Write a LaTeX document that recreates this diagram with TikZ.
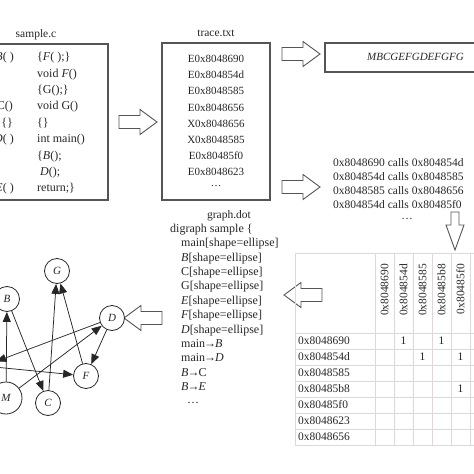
\documentclass[tikz,border=0pt]{standalone}
\usepackage{fontspec}
\setmainfont{Liberation Serif}
\usetikzlibrary{arrows.meta}
\definecolor{ink}{HTML}{262626}
\definecolor{frame}{HTML}{555555}
\definecolor{gridc}{HTML}{E0D8D8}
\begin{document}
\begin{tikzpicture}[x=1pt,y=-1pt,
  txt/.style={inner sep=0pt, text height=7.5pt, text depth=0pt, text=ink},
  dotstxt/.style={inner sep=0pt, text height=1.5pt, text depth=0pt, text=ink},
  f11/.style={font=\fontsize{11}{13}\selectfont},
  f115/.style={font=\fontsize{11.5}{13}\selectfont},
  f12/.style={font=\fontsize{12}{14}\selectfont},
  filebox/.style={draw=frame, line width=1.1pt},
  gnode/.style={circle, draw=ink, line width=0.8pt, inner sep=0pt, minimum size=25pt, fill=white, font=\fontsize{11}{13}\selectfont\itshape, text=ink},
  edge/.style={-{Triangle[length=10pt,width=8pt]}, line width=0.75pt, draw=ink},
  gridl/.style={draw=gridc, line width=0.7pt},
  barrow/.pic={\draw[frame, line width=0.9pt, line join=miter, fill=white] (0,-6.5) -- (21,-6.5) -- (21,-12.5) -- (38,0) -- (21,12.5) -- (21,6.5) -- (0,6.5) -- cycle;},
  barrowthin/.pic={\draw[frame, line width=0.9pt, line join=miter, fill=white] (0,-4) -- (13,-4) -- (13,-9) -- (38,0) -- (13,9) -- (13,4) -- (0,4) -- cycle;}
]
\useasboundingbox (0,0) rectangle (474,474);
\clip (0,0) rectangle (474,474);

% ---------- sample.c ----------
\node[txt,f115] (sctitle) at (36,34) {sample.c};
\draw[filebox] (-40,44) rectangle (108,200);
\node[txt,f12,anchor=west] (s1) at (37,57) {\{\textit{F}( );\}};
\node[txt,f12,anchor=west] (s2) at (37,73.4) {void \textit{F}()};
\node[txt,f12,anchor=west] (s3) at (37,89.8) {\{G();\}};
\node[txt,f12,anchor=west] (s4) at (37,106.2) {void G()};
\node[txt,f12,anchor=west] (s5) at (37,122.6) {\{\}};
\node[txt,f12,anchor=west] (s6) at (37,139) {int main()};
\node[txt,f12,anchor=west] (s7) at (37,155.4) {\{\textit{B}();};
\node[txt,f12,anchor=west] (s8) at (40,171.8) {\textit{D}();};
\node[txt,f12,anchor=west] (s9) at (37,188.2) {return;\}};
\node[txt,f12,anchor=east] (l1) at (14,57) {void \textit{B}( )};
\node[txt,f12,anchor=east] (l2) at (13,106.2) {void C()};
\node[txt,f12,anchor=east] (l3) at (13,122.6) {\{\}};
\node[txt,f12,anchor=east] (l4) at (14,139) {void \textit{D}( )};
\node[txt,f12,anchor=east] (l5) at (14,188.2) {void \textit{E}( )};

% ---------- trace.txt ----------
\node[txt,f115] (trtitle) at (216,33) {trace.txt};
\draw[filebox] (162,43) rectangle (270,200);
\foreach \t [count=\i from 0] in {E0x8048690,E0x804854d,E0x8048585,E0x8048656,X0x8048656,X0x8048585,E0x80485f0,E0x8048623}
  \node[txt,f11] (tr\i) at (216,{59+16.1*\i}) {\t};
\node[dotstxt,f11] (trdots) at (216,186) {\dots};

% ---------- sequence box ----------
\draw[draw=frame, line width=1.6pt] (325,43) rectangle (490,72);
\node[txt,f11,anchor=west] (seq) at (367,57) {\textit{MBCGEFGDEFGFG}};

% ---------- calls ----------
\node[txt,f115,anchor=west] (c1) at (333,163) {0x8048690 calls 0x804854d};
\node[txt,f115,anchor=west] (c2) at (333,177) {0x804854d calls 0x8048585};
\node[txt,f115,anchor=west] (c3) at (333,191) {0x8048585 calls 0x8048656};
\node[txt,f115,anchor=west] (c4) at (333,205) {0x804854d calls 0x80485f0};
\node[dotstxt,f115] (cdots) at (407,219) {\dots};

% ---------- block arrows ----------
\pic at (119,122) {barrow};
\pic at (282,54) {barrow};
\pic at (282,187) {barrow};
\pic[rotate=-90] at (455,212) {barrowthin};
\pic[rotate=180] at (322,295) {barrow};
\pic[rotate=180] at (162,318) {barrow};

% ---------- table ----------
\draw[gridl] (295,253) -- (480,253);
\foreach \y in {333,349,...,445} \draw[gridl] (295,\y) -- (480,\y);
\draw[gridl] (295,253) -- (295,445);
\foreach \x in {375,394,...,489} \draw[gridl] (\x,253) -- (\x,445);
\foreach \t [count=\i from 0] in {0x8048690,0x804854d,0x8048585,0x80485b8,0x80485f0,0x8048623}
  \node[txt,f115,rotate=90,anchor=east] (h\i) at ({384.5+19*\i},264) {\t};
\foreach \t [count=\i from 0] in {0x8048690,0x804854d,0x8048585,0x80485b8,0x80485f0,0x8048623,0x8048656}
  \node[txt,f115,anchor=west] (r\i) at (298,{341+16*\i}) {\t};
\node[txt,f115] (e1) at (403.5,341) {1};
\node[txt,f115] (e2) at (441.5,341) {1};
\node[txt,f115] (e3) at (422.5,357) {1};
\node[txt,f115] (e4) at (460.5,357) {1};
\node[txt,f115] (e5) at (460.5,389) {1};

% ---------- graph.dot ----------
\node[txt,f115] (gdtitle) at (229,215) {graph.dot};
\node[txt,f12,anchor=west] (g0) at (170,229) {digraph sample \{};
\node[txt,f12,anchor=west] (g1) at (181,243) {main[shape=ellipse]};
\node[txt,f12,anchor=west] (g2) at (181,257.4) {\textit{B}[shape=ellipse]};
\node[txt,f12,anchor=west] (g3) at (181,271.8) {C[shape=ellipse]};
\node[txt,f12,anchor=west] (g4) at (181,286.2) {G[shape=ellipse]};
\node[txt,f12,anchor=west] (g5) at (181,300.6) {\textit{E}[shape=ellipse]};
\node[txt,f12,anchor=west] (g6) at (181,315) {\textit{F}[shape=ellipse]};
\node[txt,f12,anchor=west] (g7) at (181,329.4) {\textit{D}[shape=ellipse]};
\node[txt,f12,anchor=west] (g8) at (181,343.8) {main\kern-1pt→\kern-1pt\textit{B}};
\node[txt,f12,anchor=west] (g9) at (181,358.2) {main\kern-1pt→\kern-1pt\textit{D}};
\node[txt,f12,anchor=west] (g10) at (181,372.6) {\textit{B}\kern-1pt→\kern-1pt C};
\node[txt,f12,anchor=west] (g11) at (181,387) {\textit{B}\kern-1pt→\kern-1pt\textit{E}};
\node[dotstxt,f12] (gdots) at (193,403) {\dots};

% ---------- graph ----------
\node[gnode] (G) at (57,271) {G};
\node[gnode] (B) at (7,299) {B};
\node[gnode] (D) at (112,318) {D};
\node[gnode] (F) at (86,376) {F};
\node[gnode] (C) at (48,403) {C};
\node[gnode, minimum size=32pt] (M) at (6,398) {M};
\node[gnode] (E) at (-16,366) {E};
\draw[edge] (M) -- (B);
\draw[edge] (B) -- (C);
\draw[edge] (C) -- (G);
\draw[edge] (F) -- (G);
\draw[edge] (D) -- (F);
\draw[edge] (M) -- (D);
\draw[edge] (D) -- (E);
\draw[edge] (E) -- (F);
\end{tikzpicture}
\end{document}
